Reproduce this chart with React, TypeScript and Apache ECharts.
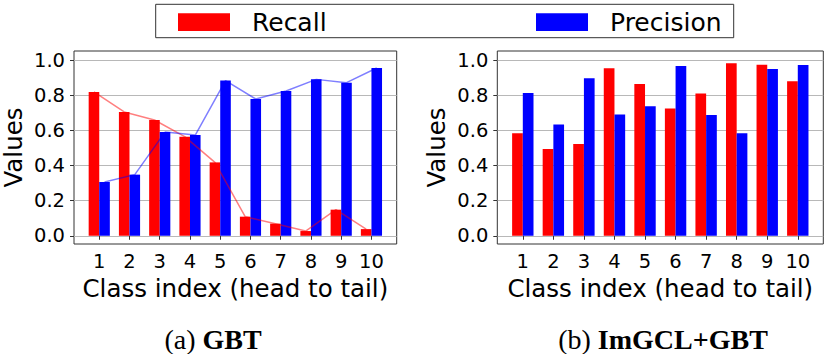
import React, { useEffect, useRef } from "react";
import * as echarts from "echarts";

// ---- data ----
const classIndex = [1, 2, 3, 4, 5, 6, 7, 8, 9, 10];
const gbtRecall = [0.821, 0.707, 0.661, 0.566, 0.419, 0.109, 0.069, 0.027, 0.149, 0.038];
const gbtPrecision = [0.307, 0.349, 0.592, 0.575, 0.886, 0.781, 0.827, 0.893, 0.874, 0.958];
const imgclRecall = [0.585, 0.495, 0.524, 0.956, 0.867, 0.726, 0.813, 0.985, 0.977, 0.882];
const imgclPrecision = [0.815, 0.636, 0.899, 0.693, 0.739, 0.970, 0.690, 0.585, 0.952, 0.975];
const yTickValues = [0, 0.2, 0.4, 0.6, 0.8, 1.0];
const legendLabels = ["Recall", "Precision"];
const xAxisTitle = "Class index (head to tail)";
const yAxisTitle = "Values";

// ---- styles ----
const RED = "#ff0000";
const BLUE = "#0000ff";
const FONT = "DejaVu Sans";
const HALF_BAR = 0.175; // half bar width in x units (for connecting lines)

const pairs = (xs: number[], ys: number[], dx = 0) => xs.map((x, i) => [x + dx, ys[i]]);

export default function App() {
  const ref = useRef<HTMLDivElement>(null);
  useEffect(() => {
    if (!ref.current) return;
    const chart = echarts.init(ref.current, null, { renderer: "svg" });

    const xAxis = (gridIndex: number) => ({
      type: "value",
      gridIndex,
      min: 0.165,
      max: 10.835,
      name: xAxisTitle,
      nameLocation: "middle",
      nameGap: 30,
      nameTextStyle: { fontFamily: FONT, fontSize: 24.5, color: "#000" },
      axisLine: { show: false },
      axisTick: { show: true, customValues: classIndex, length: 4, lineStyle: { color: "#333" } },
      axisLabel: {
        customValues: classIndex,
        fontFamily: FONT,
        fontSize: 19.5,
        color: "#000",
        margin: 7,
      },
      splitLine: { show: false },
    });
    const yAxis = (gridIndex: number) => ({
      type: "value",
      gridIndex,
      min: -0.047,
      max: 1.055,
      name: yAxisTitle,
      nameLocation: "middle",
      nameGap: 48,
      nameTextStyle: { fontFamily: FONT, fontSize: 24.5, color: "#000" },
      axisLine: { show: false },
      axisTick: { show: true, customValues: yTickValues, length: 4, lineStyle: { color: "#333" } },
      axisLabel: {
        customValues: yTickValues,
        formatter: (v: number) => v.toFixed(1),
        fontFamily: FONT,
        fontSize: 19.5,
        color: "#000",
        margin: 9,
      },
      splitLine: { show: true, lineStyle: { color: "#b8b8b8", width: 1 } },
    });

    const bar = (name: string, idx: number, ys: number[], color: string) => ({
      type: "bar",
      name,
      xAxisIndex: idx,
      yAxisIndex: idx,
      data: pairs(classIndex, ys),
      barWidth: "35%",
      barGap: "0%",
      itemStyle: { color },
      z: 2,
    });
    const line = (idx: number, ys: number[], dx: number, color: string) => ({
      type: "line",
      xAxisIndex: idx,
      yAxisIndex: idx,
      data: pairs(classIndex, ys, dx),
      symbol: "none",
      lineStyle: { color, width: 1.5 },
      z: 5,
    });

    const captionRich = {
      n: { fontFamily: "Liberation Serif", fontSize: 28, fill: "#000" },
      b: { fontFamily: "Liberation Serif", fontSize: 28, fontWeight: "bold", fill: "#000" },
    };

    chart.setOption({
      animation: false,
      backgroundColor: "#fff",
      grid: [
        { left: 72.7, top: 51, width: 324, height: 193, show: true, borderColor: "#333", borderWidth: 1, backgroundColor: "transparent" },
        { left: 497.3, top: 51, width: 326, height: 193, show: true, borderColor: "#333", borderWidth: 1, backgroundColor: "transparent" },
      ],
      xAxis: [xAxis(0), xAxis(1)],
      yAxis: [yAxis(0), yAxis(1)],
      series: [
        bar(legendLabels[0], 0, gbtRecall, RED),
        bar(legendLabels[1], 0, gbtPrecision, BLUE),
        line(0, gbtRecall, -HALF_BAR, "rgba(255,0,0,0.5)"),
        line(0, gbtPrecision, HALF_BAR, "rgba(0,0,255,0.5)"),
        bar(legendLabels[0], 1, imgclRecall, RED),
        bar(legendLabels[1], 1, imgclPrecision, BLUE),
      ],
      graphic: [
        {
          type: "rect",
          shape: { x: 155.7, y: 4.3, width: 578, height: 33.4 },
          style: { fill: "#fff", stroke: "#333", lineWidth: 1 },
        },
        { type: "rect", shape: { x: 178, y: 13.3, width: 52, height: 17.7 }, style: { fill: RED } },
        {
          type: "text",
          x: 252,
          y: 22,
          style: { text: legendLabels[0], fontFamily: FONT, fontSize: 25, fill: "#000", verticalAlign: "middle" },
        },
        { type: "rect", shape: { x: 536, y: 13.3, width: 52, height: 17.7 }, style: { fill: BLUE } },
        {
          type: "text",
          x: 610,
          y: 22,
          style: { text: legendLabels[1], fontFamily: FONT, fontSize: 25, fill: "#000", verticalAlign: "middle" },
        },
        {
          type: "text",
          x: 213,
          y: 339,
          style: { text: "{n|(a) }{b|GBT}", align: "center", verticalAlign: "middle", rich: captionRich },
        },
        {
          type: "text",
          x: 663,
          y: 339,
          style: { text: "{n|(b) }{b|ImGCL+GBT}", align: "center", verticalAlign: "middle", rich: captionRich },
        },
      ],
    });
    return () => chart.dispose();
  }, []);
  return (
    <div
      ref={ref}
      style={{ position: "absolute", left: 0, top: 0, width: 830, height: 354 }}
    />
  );
}
